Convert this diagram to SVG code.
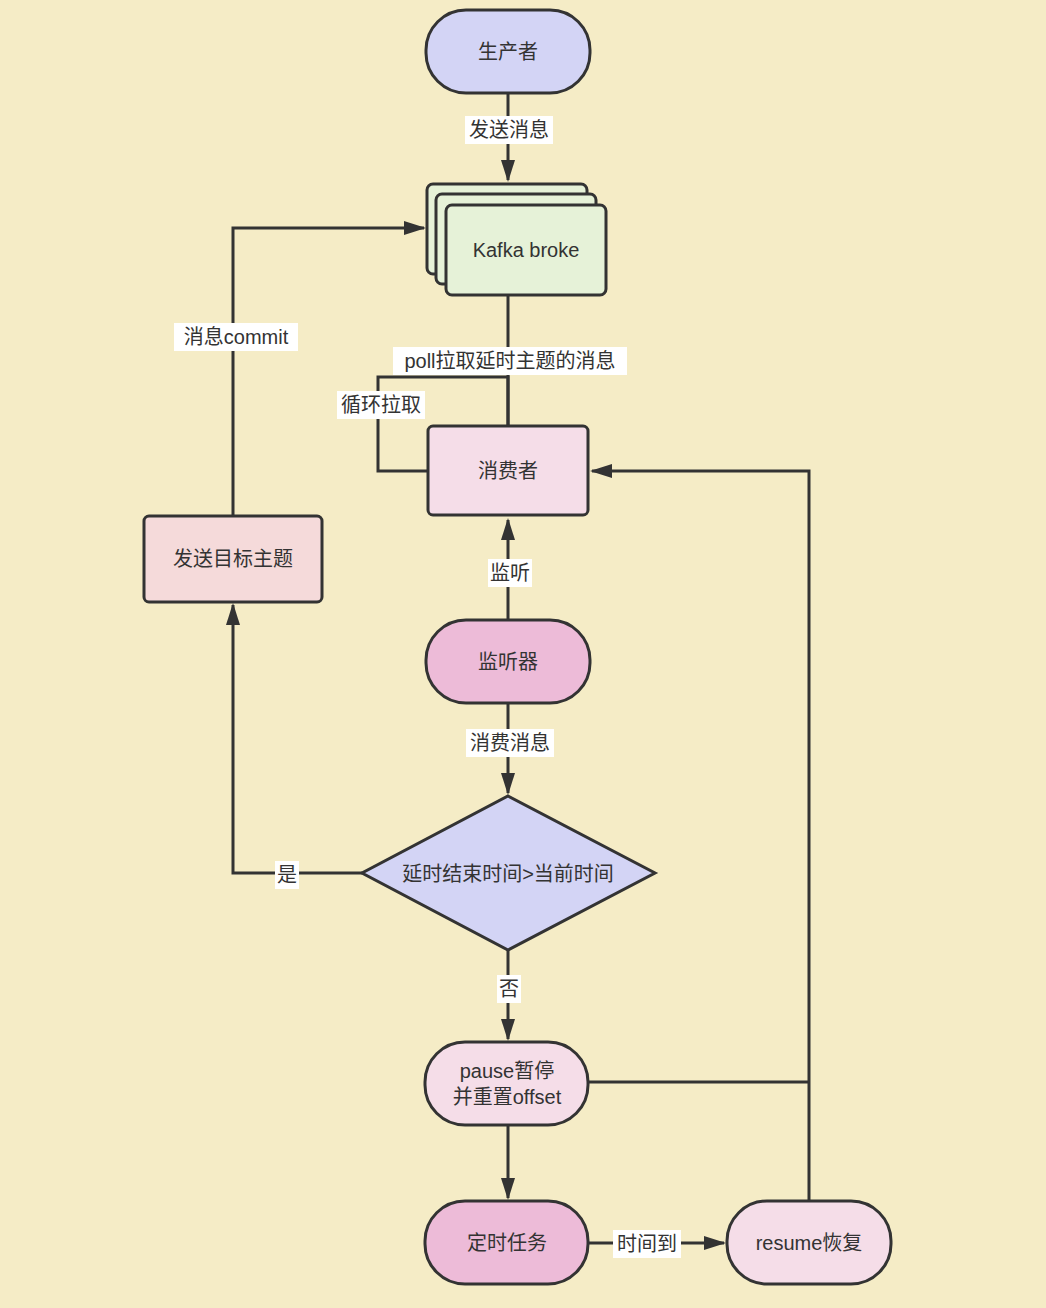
<svg xmlns="http://www.w3.org/2000/svg" width="1046" height="1308" viewBox="0 0 1046 1308">
<style>
.n{stroke:#333;stroke-width:3}
.t{font-family:"Liberation Sans","Noto Sans CJK SC",sans-serif;font-size:20px;fill:#333;text-anchor:middle;dominant-baseline:central}
.c{fill:none;stroke:#333;stroke-width:3}
.lb{fill:#fff}
</style>
<defs><marker id="a" markerWidth="10" markerHeight="10" refX="9" refY="5" orient="auto" markerUnits="userSpaceOnUse"><path d="M0,0L10,5L0,10z" fill="#333"/></marker>
<marker id="b" markerWidth="22" markerHeight="14" refX="20" refY="7" orient="auto" markerUnits="userSpaceOnUse"><path d="M0,0L22,7L0,14z" fill="#333"/></marker></defs>
<rect width="1046" height="1308" fill="#f5ecc6"/>
<g id="connectors">
<path class="c" d="M508,93V180" marker-end="url(#b)"/>
<path class="c" d="M508,295V425"/>
<path class="c" d="M508,425V377H378V471H428"/>
<path class="c" d="M233,516V228H424" marker-end="url(#b)"/>
<path class="c" d="M508,620V520" marker-end="url(#b)"/>
<path class="c" d="M508,703V793" marker-end="url(#b)"/>
<path class="c" d="M362,873H233V605" marker-end="url(#b)"/>
<path class="c" d="M508,950V1039" marker-end="url(#b)"/>
<path class="c" d="M588,1082H809"/>
<path class="c" d="M809,1200V471H592" marker-end="url(#b)"/>
<path class="c" d="M508,1125V1198" marker-end="url(#b)"/>
<path class="c" d="M588,1243H724" marker-end="url(#b)"/>
<rect class="lb" x="465" y="116" width="88" height="28"/><text class="t" x="509" y="130">发送消息</text>
<rect class="lb" x="393" y="347" width="234" height="28"/><text class="t" x="510" y="361">poll拉取延时主题的消息</text>
<rect class="lb" x="337" y="391" width="88" height="28"/><text class="t" x="381" y="405">循环拉取</text>
<rect class="lb" x="174" y="323" width="124" height="28"/><text class="t" x="236" y="337">消息commit</text>
<rect class="lb" x="488" y="559" width="44" height="28"/><text class="t" x="510" y="573">监听</text>
<rect class="lb" x="466" y="729" width="88" height="28"/><text class="t" x="510" y="743">消费消息</text>
<rect class="lb" x="275" y="861" width="24" height="28"/><text class="t" x="287" y="875">是</text>
<rect class="lb" x="497" y="975" width="24" height="28"/><text class="t" x="509" y="989">否</text>
<rect class="lb" x="613" y="1230" width="68" height="28"/><text class="t" x="647" y="1244">时间到</text>
</g>
<g id="producer"><rect class="n" x="426" y="10" width="164" height="83" rx="40" fill="#d3d4f5"/><text class="t" x="508" y="52">生产者</text></g>
<g id="kafka"><rect class="n" x="427" y="184" width="160" height="90" rx="6" fill="#e6f2d8"/><rect class="n" x="436" y="194" width="160" height="90" rx="6" fill="#e6f2d8"/><rect class="n" x="446" y="205" width="160" height="90" rx="6" fill="#e6f2d8"/><text class="t" x="526" y="250">Kafka broke</text></g>
<g id="consumer"><rect class="n" x="428" y="426" width="160" height="89" rx="5" fill="#f5dde8"/><text class="t" x="508" y="471">消费者</text></g>
<g id="send"><rect class="n" x="144" y="516" width="178" height="86" rx="5" fill="#f5dada"/><text class="t" x="233" y="559">发送目标主题</text></g>
<g id="listener"><rect class="n" x="426" y="620" width="164" height="83" rx="40" fill="#edbbd8"/><text class="t" x="508" y="662">监听器</text></g>
<g id="decision"><polygon class="n" points="508,796 655,873 508,950 362,873" fill="#d3d4f5"/><text class="t" x="508" y="874">延时结束时间&gt;当前时间</text></g>
<g id="pause"><rect class="n" x="425" y="1042" width="163" height="83" rx="40" fill="#f5dde8"/><text class="t" x="507" y="1071">pause暂停</text><text class="t" x="507" y="1097">并重置offset</text></g>
<g id="timer"><rect class="n" x="425" y="1201" width="163" height="83" rx="40" fill="#edbbd8"/><text class="t" x="507" y="1243">定时任务</text></g>
<g id="resume"><rect class="n" x="727" y="1201" width="164" height="83" rx="40" fill="#f5dde8"/><text class="t" x="809" y="1243">resume恢复</text></g>
</svg>
